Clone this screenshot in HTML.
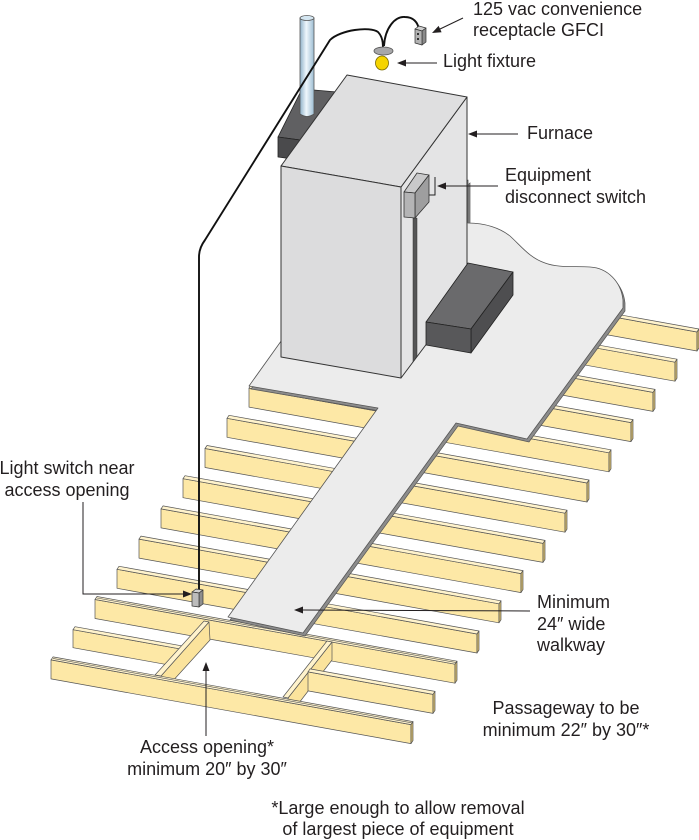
<!DOCTYPE html>
<html><head><meta charset="utf-8"><style>
html,body{margin:0;padding:0;background:#fff;}
svg{display:block;}
text{font-family:"Liberation Sans",Arial,sans-serif;font-size:18px;fill:#231f20;}
</style></head><body>
<svg width="699" height="840" viewBox="0 0 699 840" xmlns="http://www.w3.org/2000/svg">
<defs>
<linearGradient id="pg" x1="0" y1="0" x2="1" y2="0">
<stop offset="0" stop-color="#8fb2c9"/><stop offset="0.45" stop-color="#eef7fc"/><stop offset="1" stop-color="#9dbdd2"/>
</linearGradient>
<g id="j" stroke="#555" stroke-width="0.7" stroke-linejoin="round">
<polygon points="0,3 360,67.7 360,86.7 0,22" fill="#fde8a6"/>
<polygon points="0,3 2,0 362,64.7 360,67.7" fill="#fff3cc"/>
<polygon points="360,67.7 362,64.7 362,83.7 360,86.7" fill="#d7bc6e"/>
</g>
</defs>

<!-- joists -->
<use href="#j" transform="translate(337,264.3)"/>
<use href="#j" transform="translate(315,294.5)"/>
<use href="#j" transform="translate(293,324.7)"/>
<use href="#j" transform="translate(271,354.9)"/>
<use href="#j" transform="translate(249,385.1)"/>
<use href="#j" transform="translate(227,415.3)"/>
<use href="#j" transform="translate(205,445.5)"/>
<use href="#j" transform="translate(183,475.7)"/>
<use href="#j" transform="translate(161,505.9)"/>
<use href="#j" transform="translate(139,536.1)"/>
<use href="#j" transform="translate(117,566.3)"/>
<use href="#j" transform="translate(95,596.5)"/>
<line x1="97" y1="598" x2="457" y2="662.7" stroke="#555" stroke-width="0.6"/>

<!-- k12 left portion -->
<g stroke="#555" stroke-width="0.7" stroke-linejoin="round">
<polygon points="73,629.7 190,650.7 168,664.8 73,647.7" fill="#fde8a6"/>
<polygon points="73,629.7 75,626.7 192,647.7 190,650.7" fill="#fff3cc"/>
<!-- left header -->
<polygon points="209,622 210,640 170,684 161,676" fill="#fbe39c"/>
<polygon points="155,675 204,621 209,622 161,676" fill="#fff3cc"/>
<!-- right header -->
<polygon points="332,642 332,660 292,712 288,698" fill="#fbe39c"/>
<polygon points="283,697 327,641 332,642 288,698" fill="#fff3cc"/>
<!-- k12 right portion -->
<polygon points="308,671.9 433,694.4 433,713.4 308,690.9" fill="#fde8a6"/>
<polygon points="308,671.9 310,668.9 435,691.4 433,694.4" fill="#fff3cc"/>
<polygon points="433,694.4 435,691.4 435,710.4 433,713.4" fill="#d7bc6e"/>
</g>
<use href="#j" transform="translate(51,656.9)"/>
<line x1="53" y1="658.4" x2="413" y2="723.1" stroke="#555" stroke-width="0.6"/>

<!-- platform -->
<path d="M249,386 L378,408 L228,617 L303,633 L456,423 L527,439 L623,308 L623,300 C621,282 608,268 590,267 C575,266 558,268 545,263 C530,258 522,247 510,236 C500,228 485,223 468,223 L468,180 L284,337 Z" fill="#8c8c8c" stroke="#555" stroke-width="0.7" transform="translate(2,3)"/>
<path d="M249,386 L378,408 L228,617 L303,633 L456,423 L527,439 L623,308 L623,300 C621,282 608,268 590,267 C575,266 558,268 545,263 C530,258 522,247 510,236 C500,228 485,223 468,223 L468,180 L284,337 Z" fill="#ececec" stroke="#555" stroke-width="0.8" stroke-linejoin="round"/>

<!-- dark box top-left -->
<g stroke="#222" stroke-width="0.8" stroke-linejoin="round">
<polygon points="278,137 302,89 337,92 300,140" fill="#606062"/>
<polygon points="278,137 300,140 300,160 278,157" fill="#4a4a4c"/>
</g>
<!-- pipe -->
<path d="M300,18 L300,114 Q307,119 314,114 L314,18 Z" fill="url(#pg)" stroke="#555" stroke-width="0.8"/>
<ellipse cx="307" cy="18" rx="7" ry="2.5" fill="#d4e6f1" stroke="#555" stroke-width="0.8"/>

<!-- furnace -->
<g stroke="#333" stroke-width="1" stroke-linejoin="round">
<polygon points="401,187 467,97 467,290 401,378" fill="#e4e4e5"/>
<polygon points="281,166 347,75 467,97 401,187" fill="#dfdfe0"/>
<polygon points="281,166 401,187 401,378 281,357" fill="#dcdcdd"/>
</g>
<polygon points="413,218 417,218 417,356 413,362" fill="#555" stroke="#333" stroke-width="0.5"/>
<!-- disconnect switch -->
<g stroke="#333" stroke-width="0.8" stroke-linejoin="round">
<polygon points="404,192 417,173 429,175 415,193" fill="#c9c9ca"/>
<polygon points="415,193 429,175 429,202 415,218" fill="#9e9e9f"/>
<polygon points="404,192 415,193 415,218 404,217" fill="#b4b4b5"/>
</g>
<polyline points="429,195 435,195 435,177" fill="none" stroke="#222" stroke-width="1"/>

<!-- dark box right -->
<g stroke="#222" stroke-width="0.8" stroke-linejoin="round">
<polygon points="426,322 468,263 513,272 471,329" fill="#6a6a6c"/>
<polygon points="471,329 513,272 513,295 471,353" fill="#4e4e50"/>
<polygon points="426,322 471,329 471,353 426,345" fill="#58585a"/>
</g>

<!-- wire -->
<path d="M199,590 L199,257 Q199,248 205,240 L330,40 C340,30 370,26 378,32 Q383,37 383,47" fill="none" stroke="#111" stroke-width="1.9"/>
<path d="M384,46 C385,28 395,16 405,17 C413,17 418,22 419,30" fill="none" stroke="#111" stroke-width="1.9"/>

<!-- light fixture -->
<ellipse cx="382" cy="63" rx="6.5" ry="7" fill="#f5d400" stroke="#7a6a00" stroke-width="0.8"/>
<ellipse cx="383.5" cy="51" rx="9.5" ry="4" fill="#a7a7a9" stroke="#555" stroke-width="0.8"/>

<!-- receptacle -->
<g stroke="#333" stroke-width="0.7" stroke-linejoin="round">
<polygon points="415,29 419,26 426,28 422,31" fill="#cfcfcf"/>
<polygon points="422,31 426,28 426,42 422,45" fill="#8a8a8a"/>
<polygon points="415,29 422,31 422,45 415,43" fill="#b3b3b3"/>
</g>
<rect x="417" y="33" width="2" height="2" fill="#333"/>
<rect x="417" y="38" width="2" height="2" fill="#333"/>

<!-- light switch -->
<g stroke="#333" stroke-width="0.7" stroke-linejoin="round">
<polygon points="192,592 196,589 203,590 199,593" fill="#d0d0d0"/>
<polygon points="199,593 203,590 203,604 199,607" fill="#8e8e8e"/>
<polygon points="192,592 199,593 199,607 192,606" fill="#bcbcbc"/>
</g>

<!-- arrows -->
<g stroke="#231f20" stroke-width="1" fill="none">
<line x1="463" y1="18" x2="439" y2="29.5"/>
<line x1="437" y1="63" x2="405" y2="63"/>
<line x1="518" y1="134" x2="476" y2="134"/>
<line x1="498" y1="186" x2="445" y2="186"/>
<polyline points="83,502 83,594 184,594"/>
<line x1="530" y1="611" x2="302" y2="610"/>
<line x1="206" y1="736" x2="206" y2="670"/>
</g>
<g fill="#231f20">
<polygon points="432,33 441.6,32.3 438.6,25.9"/>
<polygon points="397,63 406,59.5 406,66.5"/>
<polygon points="468,134 477,130.5 477,137.5"/>
<polygon points="437,186 446,182.5 446,189.5"/>
<polygon points="192,594 183,590.5 183,597.5"/>
<polygon points="294,610 303,606.5 303,613.5"/>
<polygon points="206,662 202.5,671 209.5,671"/>
</g>

<!-- labels -->
<text x="473" y="15">125 vac convenience</text>
<text x="473" y="36">receptacle GFCI</text>
<text x="443" y="67">Light fixture</text>
<text x="527" y="139">Furnace</text>
<text x="505" y="181">Equipment</text>
<text x="505" y="203">disconnect switch</text>
<text x="67" y="474" text-anchor="middle">Light switch near</text>
<text x="67" y="496" text-anchor="middle">access opening</text>
<text x="537" y="608">Minimum</text>
<text x="537" y="630">24″ wide</text>
<text x="537" y="651">walkway</text>
<text x="566" y="714" text-anchor="middle">Passageway to be</text>
<text x="566" y="736" text-anchor="middle">minimum 22″ by 30″*</text>
<text x="207" y="753" text-anchor="middle">Access opening*</text>
<text x="207" y="775" text-anchor="middle">minimum 20″ by 30″</text>
<text x="398" y="814" text-anchor="middle">*Large enough to allow removal</text>
<text x="398" y="835" text-anchor="middle">of largest piece of equipment</text>
</svg>
</body></html>
